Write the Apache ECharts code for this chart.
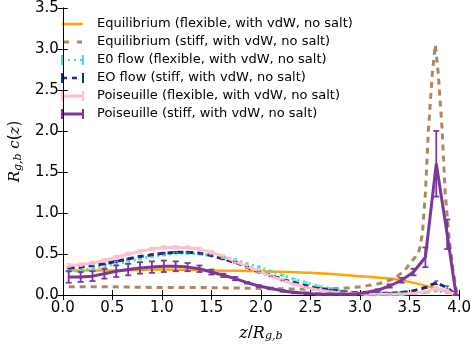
<!DOCTYPE html>
<html>
<head>
<meta charset="utf-8">
<script src="https://cdn.jsdelivr.net/npm/echarts@6/dist/echarts.min.js"></script>
<style>
html,body{margin:0;padding:0;background:#fff;}
#chart{width:474px;height:347px;}
</style>
</head>
<body>
<div id="chart"></div>
<script>
// ---- data ----
var xTicks = [0.0, 0.5, 1.0, 1.5, 2.0, 2.5, 3.0, 3.5, 4.0];
var yTicks = [0.0, 0.5, 1.0, 1.5, 2.0, 2.5, 3.0, 3.5];

var seriesNames = [
  'Equilibrium (flexible, with vdW, no salt)',
  'Equilibrium (stiff, with vdW, no salt)',
  'E0 flow (flexible, with vdW, no salt)',
  'EO flow (stiff, with vdW, no salt)',
  'Poiseuille (flexible, with vdW, no salt)',
  'Poiseuille (stiff, with vdW, no salt)'
];

var eqFlexZ = [0.06, 0.5, 1.0, 1.5, 2.0, 2.5, 3.0, 3.3, 3.5, 3.7, 3.85, 3.97];
var eqFlexV = [0.30, 0.30, 0.31, 0.30, 0.29, 0.27, 0.23, 0.20, 0.16, 0.10, 0.05, 0.0];

var eqStiffZ = [0.06, 0.5, 1.0, 1.5, 2.0, 2.5, 2.8, 3.0, 3.2, 3.35, 3.45, 3.55, 3.60, 3.63, 3.66, 3.69, 3.73, 3.76, 3.79, 3.83, 3.86, 3.90, 3.94, 3.98];
var eqStiffV = [0.10, 0.10, 0.09, 0.09, 0.08, 0.07, 0.08, 0.10, 0.14, 0.20, 0.30, 0.45, 0.55, 0.75, 1.24, 2.00, 2.70, 3.05, 2.70, 2.00, 1.24, 0.69, 0.30, 0.0];

var binZ = [0.06, 0.18, 0.30, 0.42, 0.54, 0.66, 0.78, 0.90, 1.02, 1.14, 1.26, 1.38, 1.50, 1.62, 1.74, 1.86, 1.98, 2.10, 2.22, 2.34, 2.46, 2.58, 2.70, 2.82, 2.94, 3.06, 3.18, 3.30, 3.42, 3.54, 3.66, 3.77, 3.88, 3.97];

var e0FlexV = [0.29, 0.30, 0.32, 0.35, 0.38, 0.41, 0.44, 0.47, 0.49, 0.51, 0.51, 0.50, 0.48, 0.46, 0.43, 0.38, 0.34, 0.29, 0.24, 0.19, 0.15, 0.11, 0.08, 0.05, 0.03, 0.02, 0.02, 0.02, 0.02, 0.02, 0.03, 0.05, 0.03, 0.0];
var e0FlexErr = [0.01, 0.01, 0.01, 0.01, 0.01, 0.01, 0.01, 0.01, 0.01, 0.01, 0.01, 0.01, 0.01, 0.01, 0.01, 0.01, 0.01, 0.01, 0.01, 0.01, 0.01, 0.01, 0.01, 0.01, 0.01, 0.01, 0.01, 0.01, 0.01, 0.01, 0.01, 0.01, 0.01, 0.0];

var eoStiffV = [0.33, 0.34, 0.36, 0.38, 0.41, 0.44, 0.47, 0.49, 0.51, 0.52, 0.52, 0.51, 0.48, 0.44, 0.40, 0.34, 0.28, 0.24, 0.19, 0.15, 0.11, 0.08, 0.06, 0.04, 0.03, 0.02, 0.02, 0.02, 0.03, 0.05, 0.09, 0.15, 0.09, 0.0];
var eoStiffErr = [0.01, 0.01, 0.01, 0.01, 0.01, 0.01, 0.01, 0.01, 0.01, 0.01, 0.01, 0.01, 0.01, 0.01, 0.01, 0.01, 0.01, 0.01, 0.01, 0.01, 0.01, 0.01, 0.01, 0.01, 0.01, 0.01, 0.01, 0.01, 0.01, 0.01, 0.01, 0.02, 0.02, 0.0];

var poiFlexV = [0.36, 0.37, 0.39, 0.42, 0.46, 0.50, 0.53, 0.56, 0.58, 0.58, 0.58, 0.56, 0.52, 0.47, 0.41, 0.35, 0.29, 0.23, 0.18, 0.13, 0.09, 0.06, 0.04, 0.02, 0.02, 0.01, 0.01, 0.01, 0.01, 0.02, 0.04, 0.08, 0.05, 0.0];
var poiFlexErr = [0.02, 0.02, 0.02, 0.02, 0.02, 0.02, 0.02, 0.02, 0.02, 0.02, 0.02, 0.02, 0.02, 0.02, 0.02, 0.02, 0.02, 0.02, 0.02, 0.01, 0.01, 0.01, 0.01, 0.01, 0.01, 0.01, 0.01, 0.01, 0.01, 0.01, 0.01, 0.02, 0.02, 0.0];

var poiStiffV = [0.22, 0.22, 0.23, 0.26, 0.29, 0.31, 0.33, 0.34, 0.35, 0.35, 0.34, 0.32, 0.28, 0.24, 0.20, 0.15, 0.11, 0.08, 0.05, 0.03, 0.02, 0.01, 0.01, 0.01, 0.01, 0.03, 0.06, 0.11, 0.18, 0.28, 0.46, 1.60, 0.74, 0.0];
var poiStiffErr = [0.07, 0.06, 0.06, 0.06, 0.07, 0.07, 0.07, 0.07, 0.07, 0.06, 0.05, 0.04, 0.03, 0.02, 0.02, 0.01, 0.01, 0.01, 0.01, 0.01, 0.01, 0.01, 0.01, 0.01, 0.01, 0.01, 0.01, 0.02, 0.03, 0.04, 0.12, 0.40, 0.18, 0.0];

var colors = ['#ffa500', '#b08660', '#40e0d0', '#1d2a80', '#ffbfcc', '#7b3898'];

// ---- helpers ----
function pairs(zs, vs) { return zs.map(function (z, i) { return [z, vs[i]]; }); }
function errData(zs, vs, es) { return zs.map(function (z, i) { return [z, vs[i] - es[i], vs[i] + es[i]]; }); }

function errSeries(zs, vs, es, color, lw, cap) {
  return {
    type: 'custom',
    xAxisIndex: 0, yAxisIndex: 0,
    data: errData(zs, vs, es),
    silent: true,
    z: 3,
    renderItem: function (params, api) {
      var lo = api.coord([api.value(0), api.value(1)]);
      var hi = api.coord([api.value(0), api.value(2)]);
      var st = { stroke: color, lineWidth: lw, fill: null };
      return {
        type: 'group',
        children: [
          { type: 'line', shape: { x1: lo[0], y1: lo[1], x2: hi[0], y2: hi[1] }, style: st },
          { type: 'line', shape: { x1: lo[0] - cap, y1: lo[1], x2: lo[0] + cap, y2: lo[1] }, style: st },
          { type: 'line', shape: { x1: hi[0] - cap, y1: hi[1], x2: hi[0] + cap, y2: hi[1] }, style: st }
        ]
      };
    }
  };
}

function lineSeries(name, data, color, width, dash, smooth) {
  return {
    name: name, type: 'line', data: data,
    xAxisIndex: 0, yAxisIndex: 0,
    showSymbol: false, symbol: 'none', smooth: smooth || false,
    lineStyle: { color: color, width: width, type: dash || 'solid', cap: 'butt' },
    z: 2, silent: true
  };
}

var chart = echarts.init(document.getElementById('chart'), null, { renderer: 'canvas' });

var FONT = 'DejaVu Sans';
var axisCommon = {
  min: 0, axisLine: { show: true, lineStyle: { color: '#000', width: 1 } },
  axisTick: { show: true, inside: true, length: 5, lineStyle: { color: '#000', width: 1 } },
  splitLine: { show: false }
};

// legend drawn with graphic
var legendRows = [];
var legTop = 24, legGap = 18, icX0 = 62, icX1 = 83, txtX = 97;
var hasErr = [false, false, true, true, true, true];
for (var i = 0; i < seriesNames.length; i++) {
  var yc = legTop + i * legGap;
  var c = colors[i];
  var lw = (i === 0) ? 2.5 : 3;
  if (i === 1) {
    legendRows.push({ type: 'line', shape: { x1: icX0 + 1, y1: yc, x2: icX1 - 1, y2: yc }, style: { stroke: c, lineWidth: 3, lineDash: [6, 8] } });
  } else if (i === 2) {
    legendRows.push({ type: 'line', shape: { x1: icX0, y1: yc, x2: icX1, y2: yc }, style: { stroke: c, lineWidth: 2.5, lineDash: [2, 4] } });
  } else if (i === 3) {
    legendRows.push({ type: 'line', shape: { x1: icX0, y1: yc, x2: icX1, y2: yc }, style: { stroke: c, lineWidth: 2.5, lineDash: [5, 5] } });
  } else {
    legendRows.push({ type: 'line', shape: { x1: icX0, y1: yc, x2: icX1, y2: yc }, style: { stroke: c, lineWidth: lw } });
  }
  if (hasErr[i]) {
    legendRows.push({ type: 'line', shape: { x1: icX0, y1: yc - 5, x2: icX0, y2: yc + 5 }, style: { stroke: c, lineWidth: 2 } });
    legendRows.push({ type: 'line', shape: { x1: icX1, y1: yc - 5, x2: icX1, y2: yc + 5 }, style: { stroke: c, lineWidth: 2 } });
  }
  legendRows.push({
    type: 'text', x: txtX, y: yc,
    style: { text: seriesNames[i], fill: '#000', font: '13px "DejaVu Sans"', textVerticalAlign: 'middle', verticalAlign: 'middle' }
  });
}

var option = {
  animation: false,
  backgroundColor: '#fff',
  grid: { left: 49, right: 11, top: 8, bottom: 41, containLabel: false },
  xAxis: [
    Object.assign({}, axisCommon, {
      type: 'value', max: 4, interval: 0.5, position: 'bottom',
      axisLabel: { show: true, margin: 6, color: '#000', fontFamily: FONT, fontSize: 15,
        formatter: function (v) { return v.toFixed(1); } },
      name: '{i|z}/{i|R}{s|g,b}', nameLocation: 'middle', nameGap: 30,
      nameTextStyle: {
        color: '#000', fontFamily: FONT, fontSize: 15,
        rich: {
          i: { fontFamily: 'DejaVu Serif', fontStyle: 'italic', fontSize: 16, color: '#000' },
          s: { fontFamily: 'DejaVu Serif', fontStyle: 'italic', fontSize: 11, color: '#000', verticalAlign: 'bottom', padding: [6, 0, 0, 0] }
        }
      }
    }),
    Object.assign({}, axisCommon, {
      type: 'value', max: 4, interval: 0.5, position: 'top',
      axisLabel: { show: false }
    })
  ],
  yAxis: [
    Object.assign({}, axisCommon, {
      type: 'value', max: 3.5, interval: 0.5, position: 'left',
      axisLabel: { show: true, margin: 4, color: '#000', fontFamily: FONT, fontSize: 15,
        formatter: function (v) { return v.toFixed(1); } },
      name: '{i|R}{s|g,b} {i|c}({i|z})', nameLocation: 'middle', nameGap: 37, nameRotate: 90,
      nameTextStyle: {
        color: '#000', fontFamily: FONT, fontSize: 15,
        rich: {
          i: { fontFamily: 'DejaVu Serif', fontStyle: 'italic', fontSize: 15, color: '#000' },
          s: { fontFamily: 'DejaVu Serif', fontStyle: 'italic', fontSize: 11, color: '#000', padding: [6, 0, 0, 0] }
        }
      }
    }),
    Object.assign({}, axisCommon, {
      type: 'value', max: 3.5, interval: 0.5, position: 'right',
      axisLabel: { show: false }
    })
  ],
  series: [
    lineSeries(seriesNames[0], pairs(eqFlexZ, eqFlexV), colors[0], 2.5, 'solid', 0.3),
    lineSeries(seriesNames[1], pairs(eqStiffZ, eqStiffV), colors[1], 3, [6, 5], false),
    lineSeries(seriesNames[2], pairs(binZ, e0FlexV), colors[2], 3, [2, 4], false),
    errSeries(binZ, e0FlexV, e0FlexErr, colors[2], 1, 2),
    lineSeries(seriesNames[3], pairs(binZ, eoStiffV), colors[3], 3, [6, 4], false),
    errSeries(binZ, eoStiffV, eoStiffErr, colors[3], 1, 2),
    lineSeries(seriesNames[4], pairs(binZ, poiFlexV), colors[4], 3, 'solid', false),
    errSeries(binZ, poiFlexV, poiFlexErr, colors[4], 1.2, 2.5),
    lineSeries(seriesNames[5], pairs(binZ, poiStiffV), colors[5], 3, 'solid', false),
    errSeries(binZ, poiStiffV, poiStiffErr, colors[5], 1.8, 3)
  ],
  graphic: legendRows
};
chart.setOption(option);
</script>
</body>
</html>
